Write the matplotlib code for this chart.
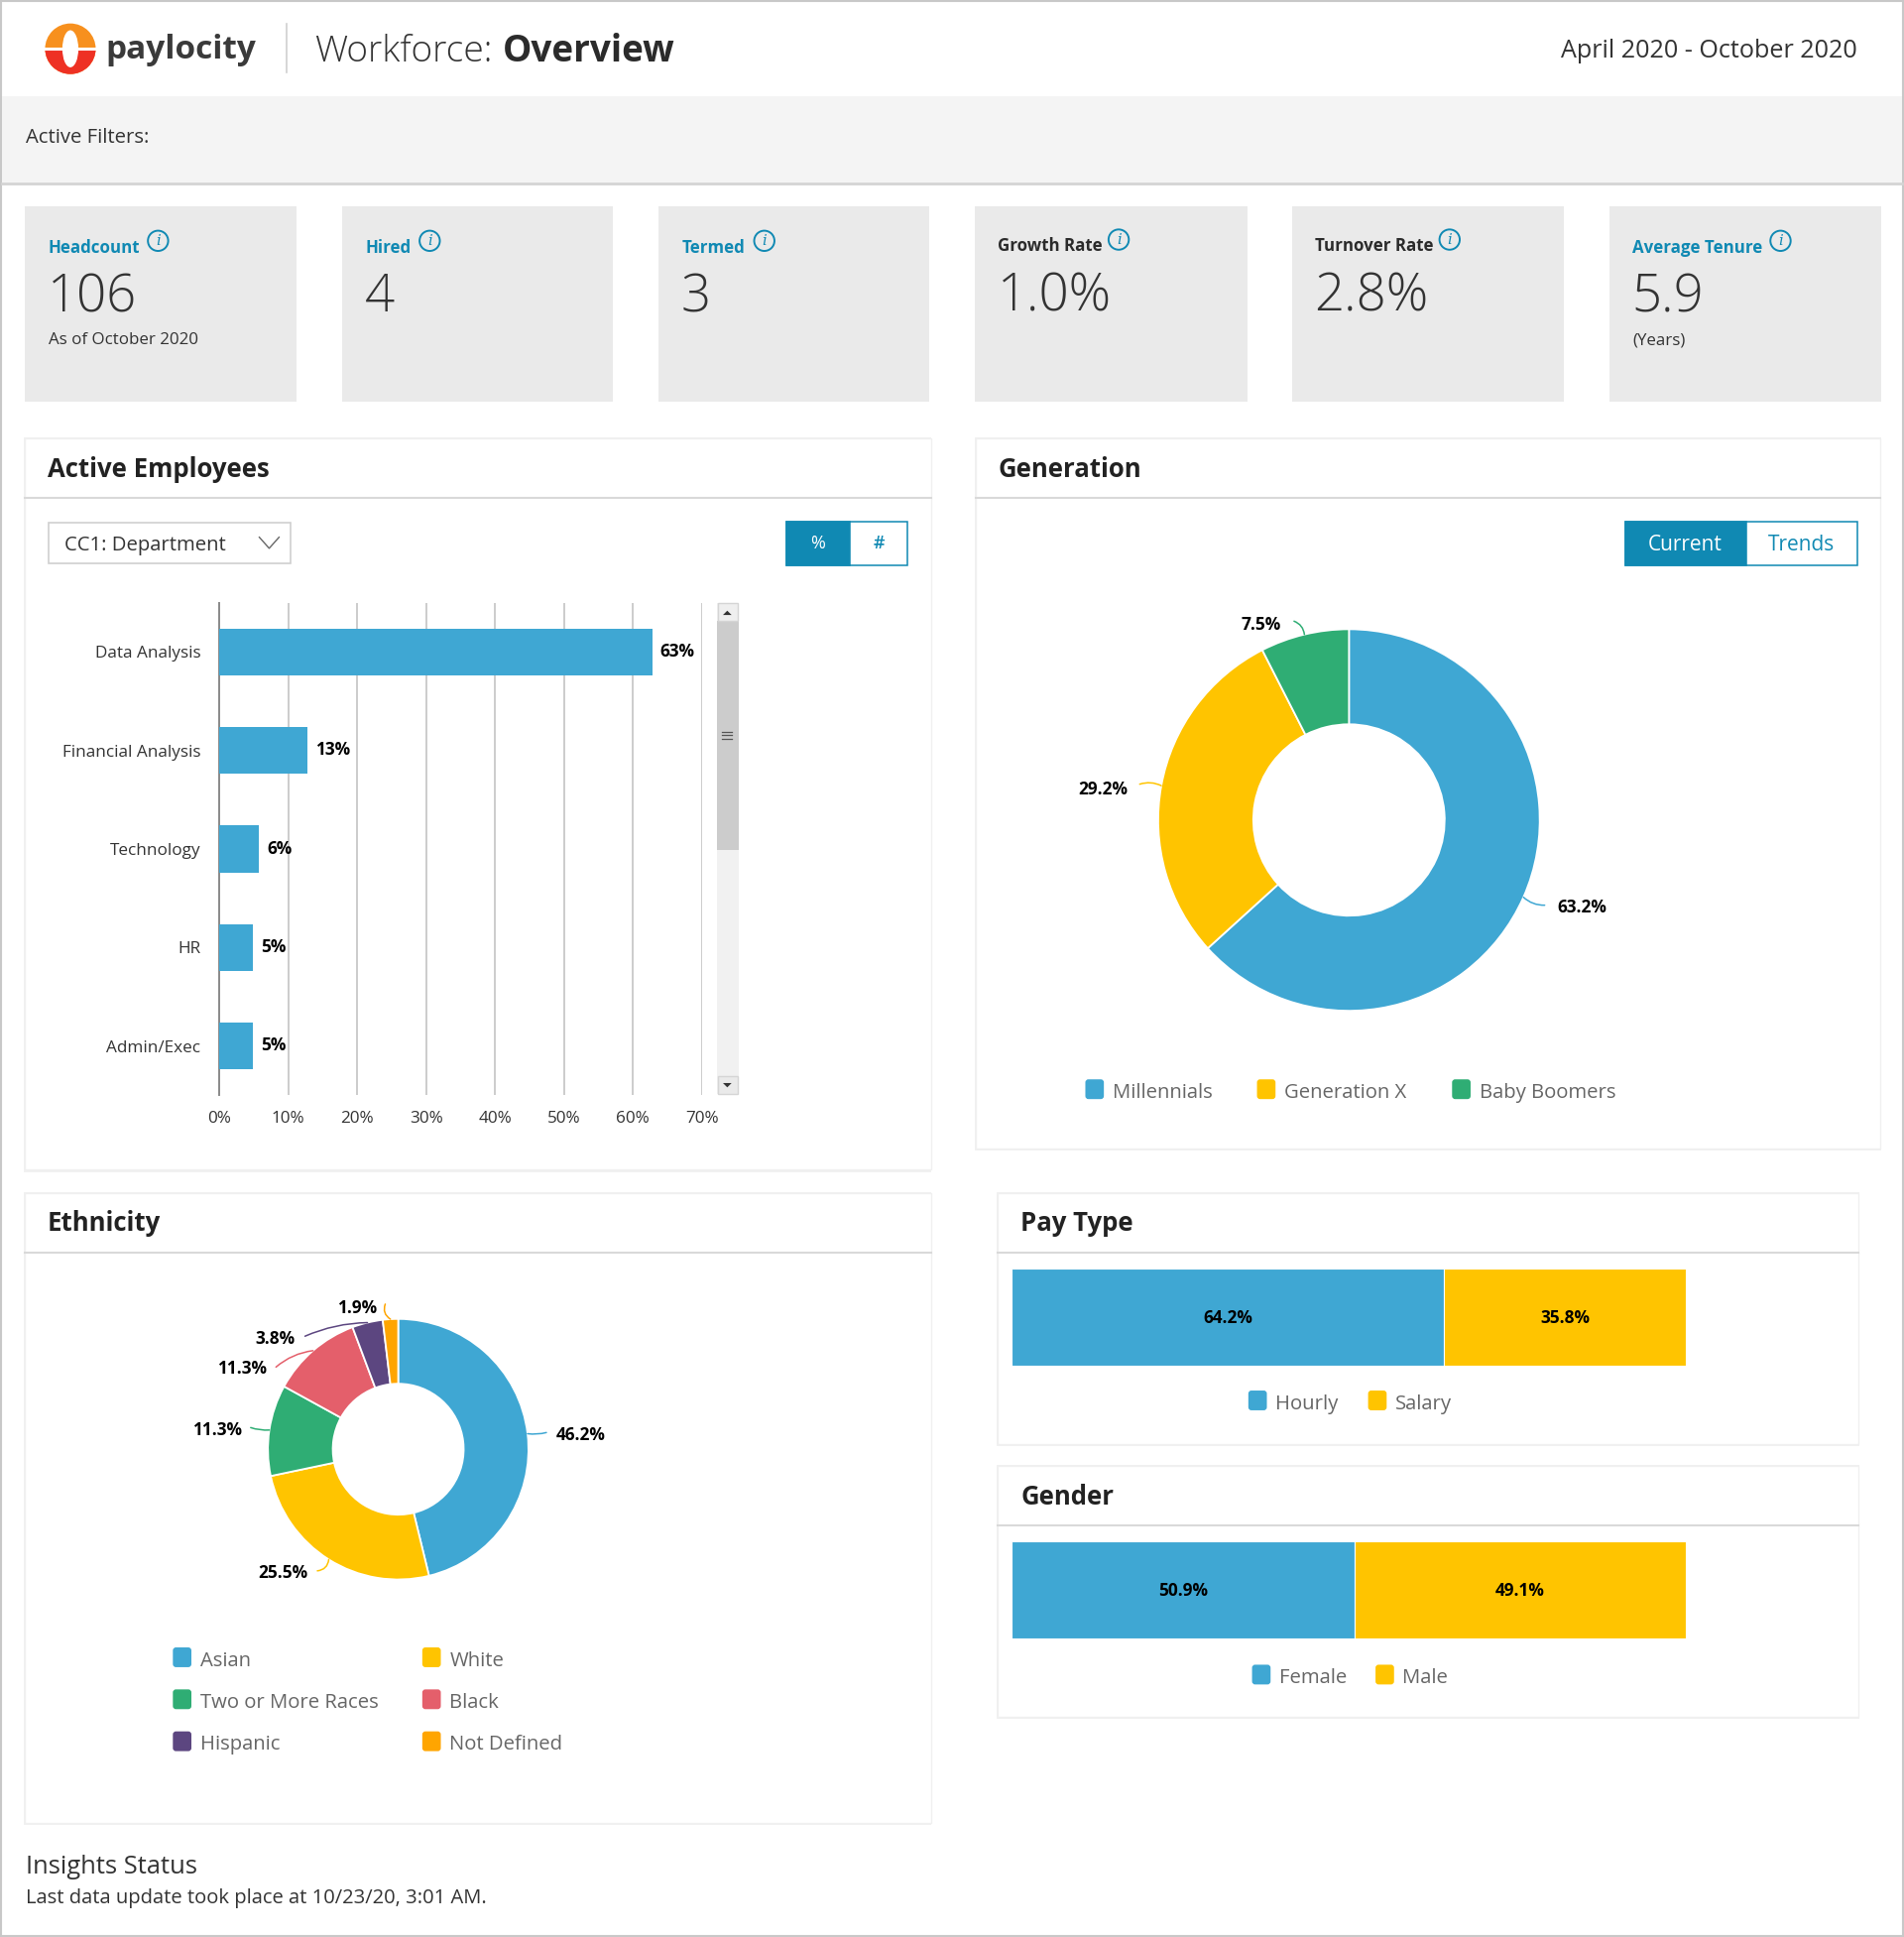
import matplotlib
matplotlib.use('Agg')
import numpy as np
import matplotlib.pyplot as plt
from matplotlib.patches import Rectangle, FancyBboxPatch, Circle, Ellipse, Polygon

plt.rcParams['font.family'] = ['Open Sans', 'DejaVu Sans']

# data
kpi_labels = ['Headcount', 'Hired', 'Termed', 'Growth Rate', 'Turnover Rate', 'Average Tenure']
kpi_values = ['106', '4', '3', '1.0%', '2.8%', '5.9']
kpi_notes = ['As of October 2020', '', '', '', '', '(Years)']

departments = ['Data Analysis', 'Financial Analysis', 'Technology', 'HR', 'Admin/Exec']
dept_values = [62.8, 12.8, 5.8, 4.9, 4.9]
dept_labels = ['63%', '13%', '6%', '5%', '5%']
pct_ticks = [0, 10, 20, 30, 40, 50, 60, 70]

gen_names = ['Millennials', 'Generation X', 'Baby Boomers']
gen_values = [63.2, 29.2, 7.5]

eth_names = ['Asian', 'White', 'Two or More Races', 'Black', 'Hispanic', 'Not Defined']
eth_values = [46.2, 25.5, 11.3, 11.3, 3.8, 1.9]

pay_names = ['Hourly', 'Salary']
pay_values = [64.2, 35.8]
gender_names = ['Female', 'Male']
gender_values = [50.9, 49.1]

BLUE = '#3FA7D3'
YELLOW = '#FFC400'
GREEN = '#2FAD74'
RED = '#E45F6B'
PURPLE = '#5C4680'
ORANGE = '#FFA500'
TEAL = '#1089B3'
DARK = '#2B2B2B'
GREY = '#666666'

W, H = 1542.0, 1568.5   # layout units of the page

fig = plt.figure(figsize=(19.2, 19.53), dpi=100, facecolor='white')
page = fig.add_axes([0, 0, 1, 1], zorder=0)
page.set_xlim(0, W)
page.set_ylim(H, 0)
page.axis('off')


def sub_axes(x0, y0, x1, y1):
    ax = fig.add_axes([x0 / W, 1 - y1 / H, (x1 - x0) / W, (y1 - y0) / H], zorder=2)
    ax.patch.set_alpha(0)
    return ax


def txt(x, y, s, size=11, color=DARK, weight='normal', ha='left', **kw):
    page.text(x, y + 1.5, s, fontsize=size, color=color, weight=weight, ha=ha, va='center', **kw)


def box(x0, y0, x1, y1, fc, ec='none', lw=1.0, z=1):
    page.add_patch(Rectangle((x0, y0), x1 - x0, y1 - y0, fc=fc, ec=ec, lw=lw, zorder=z))


def panel(x0, y0, x1, y1, title, line_y):
    box(x0 - 0.5, y0 - 0.5, x1 + 0.5, y1 + 2, '#F1F1F1')
    box(x0, y0, x1, y1, 'white', ec='#F0F0F0')
    page.plot([x0, x1], [line_y, line_y], color='#D9D9D9', lw=1.5, zorder=2)
    txt(x0 + 18.5, (y0 + line_y) / 2 - 0.5, title, size=18.5, weight='bold', color='#222222', zorder=3)


def legend_item(x, y, name, color):
    page.add_patch(FancyBboxPatch((x + 3, y - 7), 11, 12, boxstyle='round,pad=2,rounding_size=2.5',
                                  fc=color, ec='none', zorder=3))
    txt(x + 23, y + 0.5, name, size=14.6, color=GREY, zorder=3)


def info_icon(x, y):
    page.add_patch(Circle((x, y), 8.2, fc='none', ec=TEAL, lw=1.4, zorder=3))
    page.text(x, y, 'i', fontsize=10.5, color=TEAL, ha='center', va='center', style='italic',
              family='DejaVu Serif', zorder=4)


# page frame, header and filter band
box(0.8, 0.8, W - 1.2, H - 1.2, 'white', ec='#C8C8C8', lw=1.5, z=0)
box(2, 78, W - 2, 148, '#F4F4F4')
page.plot([2, W - 2], [148.5, 148.5], color='#D4D4D4', lw=2, zorder=2)
txt(21, 110, 'Active Filters:', size=14.6, color='#333333')
page.plot([232, 232], [19, 59], color='#D0D0D0', lw=1.2)
txt(255, 40.5, 'Workforce:', size=26.7, weight='light', color='#333333')
txt(407, 40.5, 'Overview', size=26.6, weight='bold', color='#2B2B2B')
txt(1504, 40, 'April 2020 - October 2020', size=18.1, ha='right', color='#333333')

# logo
page.add_patch(Ellipse((57, 39.5), 41, 41, fc='#F7901E', ec='none', zorder=2))
low = Ellipse((57, 39.5), 41, 41, fc='#EE3124', ec='none', zorder=2)
page.add_patch(low)
low.set_clip_path(Rectangle((30, 40), 60, 30, transform=page.transData))
page.add_patch(Ellipse((57, 39.5), 13, 30, fc='white', ec='none', zorder=3))
page.plot([36, 78], [39.5, 39.5], color='white', lw=2.2, zorder=3)
txt(85.5, 39, 'paylocity', size=24, weight='bold', color='#3A3A3A')

# KPI cards
card_x = [(20, 240), (277, 496), (533, 752), (789, 1010), (1046, 1266), (1303, 1523)]
icon_x = [128, 348, 619, 906, 1174, 1442]
label_y = [199, 199, 199, 198, 198, 199]
icon_y = [195, 195, 195, 194, 194, 195]
value_y = [240, 240, 240, 239, 239, 240]
for i, (x0, x1) in enumerate(card_x):
    box(x0 + 0.3, 167, x1 + 0.3, 325, '#EAEAEA')
    col = DARK if kpi_labels[i] in ('Growth Rate', 'Turnover Rate') else TEAL
    txt(x0 + 19.3, label_y[i], kpi_labels[i], size=12.2, weight='bold', color=col, zorder=3)
    info_icon(icon_x[i], icon_y[i])
    txt(x0 + 18.5, value_y[i], kpi_values[i], size=38, weight='light', color='#333333', zorder=3)
    if kpi_notes[i]:
        txt(x0 + 19.3, 274, kpi_notes[i], size=12.2, color='#333333', zorder=3)

# panels
panel(20, 355, 754, 947, 'Active Employees', 403)
panel(790, 355, 1523, 930, 'Generation', 403)
panel(20, 966, 754, 1476, 'Ethnicity', 1014)
panel(808, 966, 1505, 1169, 'Pay Type', 1014)
panel(808, 1187, 1505, 1390, 'Gender', 1235)

# dropdown and toggles
box(39, 423, 235, 456, 'white', ec='#D0D0D0', lw=1.2, z=2)
txt(52, 440, 'CC1: Department', size=14.6, color='#333333', zorder=3)
page.plot([210, 218, 226], [435, 444, 435], color='#666666', lw=1.0, zorder=3)

box(636.5, 422.5, 735, 457.5, 'white', ec=TEAL, lw=1.1, z=2)
box(636.5, 422.5, 688, 457.5, TEAL, ec=TEAL, lw=1.1, z=3)
txt(662, 439, '%', size=13, color='white', ha='center', zorder=4)
txt(711.5, 439, '#', size=13, color=TEAL, ha='center', weight='semibold', zorder=4)

box(1316.5, 422.5, 1504, 457.5, 'white', ec=TEAL, lw=1.1, z=2)
box(1316.5, 422.5, 1414, 457.5, TEAL, ec=TEAL, lw=1.1, z=3)
txt(1365, 440, 'Current', size=15, color='white', ha='center', zorder=4)
txt(1459, 440, 'Trends', size=15, color=TEAL, ha='center', zorder=4)

# department bars
ax = sub_axes(177.5, 488, 568.5, 887)
ypos = np.arange(len(departments))
ax.barh(ypos, dept_values, height=0.475, color=BLUE, zorder=3)
ax.set_xlim(0, 70)
ax.set_ylim(len(departments) - 0.5, -0.5)
ax.set_yticks(ypos, departments)
ax.set_xticks(pct_ticks, [f'{t}%' for t in pct_ticks])
ax.tick_params(axis='both', length=0, labelsize=12.3, labelcolor='#333333')
ax.tick_params(axis='y', pad=13.5)
ax.tick_params(axis='x', pad=11)
ax.grid(axis='x', color='#CCCCCC', lw=1.4, zorder=0)
for side in ('top', 'right', 'bottom'):
    ax.spines[side].set_visible(False)
ax.spines['left'].set_color('#8A8A8A')
ax.spines['left'].set_linewidth(1.4)
for y, v, lab in zip(ypos, dept_values, dept_labels):
    ax.text(v + 1.1, y - 0.005, lab, fontsize=12.4, weight='bold', color='black', va='center', zorder=4)

# scrollbar
box(581, 488, 598, 886, '#F1F1F1', z=3)
box(581, 503, 598, 688, '#CCCCCC', z=4)
box(581.5, 488.5, 597.5, 503, '#EFEFEF', ec='#D5D5D5', z=4)
box(581.5, 871, 597.5, 886, '#EAEAEA', ec='#D5D5D5', z=4)
page.add_patch(Polygon([(585.5, 498), (592.5, 498), (589, 494.5)], fc='#333333', zorder=5))
page.add_patch(Polygon([(585.5, 877), (592.5, 877), (589, 880.5)], fc='#333333', zorder=5))
for yy in (592.5, 595.5, 598.5):
    page.plot([584.5, 592.5], [yy, yy], color='#555555', lw=0.9, zorder=5)


def donut(cx, cy, r, hole, values, colors):
    pie_ax = sub_axes(cx - r, cy - r, cx + r, cy + r)
    wedges, _ = pie_ax.pie(values, colors=colors, startangle=90, counterclock=False, radius=1,
                           wedgeprops={'width': 1 - hole / r, 'edgecolor': 'white', 'linewidth': 1.3})
    pie_ax.set_xlim(-1, 1)
    pie_ax.set_ylim(-1, 1)
    return pie_ax, wedges


def leaders(pie_ax, wedges, ends, rads):
    for w, end, rad in zip(wedges, ends, rads):
        mid = np.deg2rad((w.theta1 + w.theta2) / 2)
        pie_ax.annotate('', xy=(np.cos(mid), np.sin(mid)), xycoords='data',
                        xytext=end, textcoords=page.transData, annotation_clip=False,
                        arrowprops=dict(arrowstyle='-', color=w.get_facecolor(), lw=1.1,
                                        shrinkA=0, shrinkB=0,
                                        connectionstyle=f'arc3,rad={rad}'))


# generation donut
gen_colors = [BLUE, YELLOW, GREEN]
gax, gw = donut(1092.5, 664, 154.5, 77.5, gen_values, gen_colors)
leaders(gax, gw, [(1251, 733), (923, 635), (1048, 503)], [-0.2, -0.2, -0.3])
for (x, y), v in zip([(1261, 734), (873, 638), (1005, 505)], gen_values):
    txt(x, y - 0.5, f'{v}%', size=12.4, weight='bold', color='black', zorder=3)
for x, name, col in zip([878, 1017, 1175], gen_names, gen_colors):
    legend_item(x, 883, name, col)

# ethnicity donut
eth_colors = [BLUE, YELLOW, GREEN, RED, PURPLE, ORANGE]
eax, ew = donut(322.5, 1173.5, 105.5, 53, eth_values, eth_colors)
leaders(eax, ew, [(442.5, 1160), (257, 1272), (203, 1156), (223.5, 1107), (247, 1082), (312, 1056)],
        [-0.1, 0.4, 0.1, -0.15, -0.1, 0.4])
for (x, y), v in zip([(450, 1161), (209, 1273), (156, 1157), (176, 1107), (207, 1083), (273, 1058)],
                     eth_values):
    txt(x, y - 0.5, f'{v}%', size=12.4, weight='bold', color='black', zorder=3)
eth_lx = [139, 341, 139, 341, 139, 341]
eth_ly = [1343, 1343, 1377, 1377, 1411, 1411]
for x, y, name, col in zip(eth_lx, eth_ly, eth_names, eth_colors):
    legend_item(x, y, name, col)


def stacked(y0, y1, values):
    bax = sub_axes(819.5, y0, 1365, y1)
    left = 0
    for v, col in zip(values, [BLUE, YELLOW]):
        bax.barh(0, v, left=left, height=1, color=col, edgecolor='white', linewidth=0.8)
        bax.text(left + v / 2, -0.01, f'{v}%', fontsize=12.4, weight='bold', color='black',
                 ha='center', va='center')
        left += v
    bax.set_xlim(0, 100)
    bax.set_ylim(-0.5, 0.5)
    bax.axis('off')


stacked(1027, 1105.5, pay_values)
legend_item(1010, 1135, pay_names[0], BLUE)
legend_item(1107, 1135, pay_names[1], YELLOW)
stacked(1248, 1326.5, gender_values)
legend_item(1013, 1357, gender_names[0], BLUE)
legend_item(1113, 1357, gender_names[1], YELLOW)

# footer
txt(21, 1510, 'Insights Status', size=18.4, color='#333333')
txt(21, 1536, 'Last data update took place at 10/23/20, 3:01 AM.', size=14.5, color='#333333')

fig.savefig('out.png', dpi=100)
